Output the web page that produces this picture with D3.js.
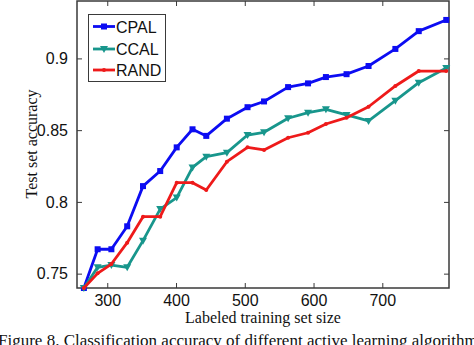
<!DOCTYPE html>
<html>
  <head>
    <meta charset="utf-8">
    <title>Test set accuracy vs labeled training set size</title>
    <script src="https://cdn.jsdelivr.net/npm/d3@7"></script>
    <style>
      body { margin: 0; background: white; }
      svg { display: block; }
    </style>
  </head>
  <body>
    <svg></svg>
    <script>
      // values
      let sizes = [266, 286, 306, 329, 352, 377, 401, 424, 444, 474,
                   504, 528, 563, 592, 618, 648, 680, 719, 753, 793];
      let cpal = [0.740, 0.767, 0.767, 0.783, 0.811, 0.8215, 0.838, 0.8506, 0.846, 0.858,
                  0.866, 0.870, 0.880, 0.8826, 0.887, 0.889, 0.8947, 0.9066, 0.919, 0.9268];
      let ccal = [0.740, 0.7544, 0.756, 0.7544, 0.773, 0.795, 0.803, 0.824, 0.8315, 0.8343,
                  0.8466, 0.8485, 0.8583, 0.8622, 0.8645, 0.8606, 0.8564, 0.8705, 0.8831, 0.8933];
      let rand = [0.740, 0.7502, 0.7567, 0.7716, 0.7897, 0.7897, 0.8134, 0.8134, 0.8083, 0.828,
                  0.838, 0.8362, 0.8447, 0.8482, 0.8543, 0.8587, 0.8663, 0.8808, 0.8912, 0.8912];
      let seriesNames = ["CPAL", "CCAL", "RAND"];
      let xTicks = [300, 400, 500, 600, 700];
      let yTicks = [0.75, 0.8, 0.85, 0.9];

      let w = 474, h = 345;
      let margin = {top: 1, right: 25, bottom: 57, left: 77};
      let sans = "'Liberation Sans', Arial, sans-serif";
      let serif = "'Liberation Serif', 'Times New Roman', serif";

      let series = [
        {name: seriesNames[0], values: cpal, color: "#0c0cf2", marker: "square"},
        {name: seriesNames[1], values: ccal, color: "#18968c", marker: "triangle"},
        {name: seriesNames[2], values: rand, color: "#ee1a1a", marker: "plus"}
      ];

      let svg = d3.select("svg")
                  .attr("width", w)
                  .attr("height", h);

      let x = d3.scaleLinear()
                .domain([256, 797])
                .range([margin.left, w - margin.right]);

      let y = d3.scaleLinear()
                .domain([0.74, 0.94])
                .range([h - margin.bottom, margin.top]);

      let x0 = margin.left, x1 = w - margin.right;
      let y0 = h - margin.bottom, y1 = margin.top;
      let axisColor = "#3a3a3a";

      // box and ticks (MATLAB style, ticks point inward on all four sides)
      let axes = svg.append("g");

      axes.append("g")
          .attr("transform", `translate(0,${y0})`)
          .call(d3.axisBottom(x).tickValues(xTicks).tickSizeInner(-5).tickSizeOuter(0).tickPadding(7))
          .call(g => g.select(".domain").remove());

      axes.append("g")
          .attr("transform", `translate(0,${y1})`)
          .call(d3.axisTop(x).tickValues(xTicks).tickSizeInner(-5).tickSizeOuter(0).tickFormat(""))
          .call(g => g.select(".domain").remove());

      axes.append("g")
          .attr("transform", `translate(${x0},0)`)
          .call(d3.axisLeft(y).tickValues(yTicks).tickSizeInner(-5).tickSizeOuter(0).tickPadding(9)
                  .tickFormat(d => String(d)))
          .call(g => g.select(".domain").remove());

      axes.append("g")
          .attr("transform", `translate(${x1},0)`)
          .call(d3.axisRight(y).tickValues(yTicks).tickSizeInner(-5).tickSizeOuter(0).tickFormat(""))
          .call(g => g.select(".domain").remove());

      axes.selectAll(".tick line").attr("stroke", axisColor).attr("stroke-width", 1);
      axes.selectAll(".tick text")
          .attr("font-family", sans)
          .attr("font-size", 16)
          .attr("fill", "#111");

      axes.append("rect")
          .attr("x", x0)
          .attr("y", y1)
          .attr("width", x1 - x0)
          .attr("height", y0 - y1)
          .attr("fill", "none")
          .attr("stroke", axisColor)
          .attr("stroke-width", 1.5);

      //axis titles
      svg.append("text")
         .attr("x", 263)
         .attr("y", 323)
         .attr("text-anchor", "middle")
         .attr("font-family", serif)
         .attr("font-size", 16)
         .attr("fill", "#111")
         .text("Labeled training set size");

      svg.append("text")
         .attr("transform", "translate(37,144) rotate(-90)")
         .attr("text-anchor", "middle")
         .attr("font-family", serif)
         .attr("font-size", 16)
         .attr("fill", "#111")
         .text("Test set accuracy");

      // caption, cut off by the bottom edge like the source image
      svg.append("text")
         .attr("x", -2)
         .attr("y", 346)
         .attr("font-family", serif)
         .attr("font-size", 17)
         .attr("fill", "#111")
         .text("Figure 8. Classification accuracy of different active learning algorithms");

      let line = d3.line()
                   .x((d, i) => x(sizes[i]))
                   .y(d => y(d));

      let drawMarker = (g, s, cx, cy) => {
        if (s.marker == "square") {
          g.append("rect")
           .attr("x", cx - 3).attr("y", cy - 3)
           .attr("width", 6).attr("height", 6)
           .attr("fill", s.color);
        } else if (s.marker == "triangle") {
          g.append("path")
           .attr("d", `M${cx - 4},${cy - 3}L${cx + 4},${cy - 3}L${cx},${cy + 4}Z`)
           .attr("fill", s.color);
        } else {
          g.append("circle")
           .attr("cx", cx).attr("cy", cy).attr("r", 2)
           .attr("fill", s.color);
        }
      };

      series.forEach(s => {
        let g = svg.append("g");
        g.append("path")
         .attr("d", line(s.values))
         .attr("fill", "none")
         .attr("stroke", s.color)
         .attr("stroke-width", 2.8)
         .attr("stroke-linejoin", "round");
        s.values.forEach((v, i) => drawMarker(g, s, x(sizes[i]), y(v)));
      });

      //legend
      let legend = svg.append("g");
      legend.append("rect")
            .attr("x", 88.5)
            .attr("y", 14.5)
            .attr("width", 77)
            .attr("height", 67)
            .attr("fill", "white")
            .attr("stroke", axisColor)
            .attr("stroke-width", 1);

      let legendY = [26.5, 49, 70];
      series.forEach((s, i) => {
        legend.append("line")
              .attr("x1", 93).attr("x2", 115)
              .attr("y1", legendY[i]).attr("y2", legendY[i])
              .attr("stroke", s.color)
              .attr("stroke-width", 2.8);
        drawMarker(legend, s, 104, legendY[i]);
        legend.append("text")
              .attr("x", 116)
              .attr("y", legendY[i] + 6)
              .attr("font-family", sans)
              .attr("font-size", 16)
              .attr("fill", "#111")
              .text(s.name);
      });
    </script>
  </body>
</html>
